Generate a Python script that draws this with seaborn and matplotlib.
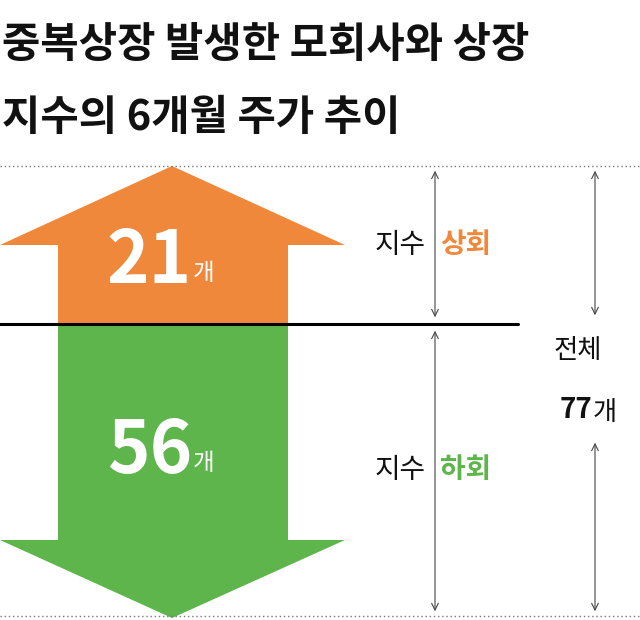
import matplotlib
matplotlib.use("Agg")
import matplotlib.pyplot as plt
import seaborn as sns
from matplotlib.patches import Polygon

sns.set_theme(style="white")
plt.rcParams['font.family'] = ['Noto Sans CJK KR', 'DejaVu Sans']

title_lines = ["중복상장 발생한 모회사와 상장", "지수의 6개월 주가 추이"]
categories = ["상회", "하회"]
counts = [21, 56]
total = sum(counts)
colors = ["#F0883B", "#5DB54B"]

fig = plt.figure(figsize=(6.4, 6.2), dpi=100)
ax = fig.add_axes([0, 0, 1, 1])
ax.set_xlim(0, 640); ax.set_ylim(620, 0); ax.axis("off")

for i, t in enumerate(title_lines):
    ax.text(2, 45 + i * 73, t, fontsize=30, fontweight="bold", va="center", ha="left", color="#111")

ax.plot([0, 640], [166, 166], ls=(0, (1, 2)), color="#777", lw=1)
ax.plot([0, 640], [616, 616], ls=(0, (1, 2)), color="#777", lw=1)

ax.add_patch(Polygon([(0, 245), (172, 166), (345, 245), (288, 245), (288, 324), (58, 324), (58, 245)],
                     closed=True, color=colors[0], lw=0))
ax.add_patch(Polygon([(58, 324), (288, 324), (288, 540), (345, 540), (172, 618), (0, 540), (58, 540)],
                     closed=True, color=colors[1], lw=0))
ax.plot([0, 518], [324, 324], color="black", lw=2.2)

for y, n in [(262, counts[0]), (452, counts[1])]:
    ax.text(192, y, str(n), fontsize=52, fontweight="black", color="white", ha="right", va="center")
    ax.text(193, y + 12, "개", fontsize=17, color="white", ha="left", va="center")

for y, c, col in [(245, categories[0], colors[0]), (470, categories[1], colors[1])]:
    ax.text(375, y, "지수", fontsize=20, ha="left", va="center", color="#111")
    ax.text(440, y, c, fontsize=20, fontweight="bold", ha="left", va="center", color=col)

ax.text(578, 350, "전체", fontsize=19, ha="center", va="center", color="#111")
ax.text(592, 410, str(total), fontsize=20, fontweight="black", ha="right", va="center", color="#111")
ax.text(593, 412, "개", fontsize=19, ha="left", va="center", color="#111")

def varrow(x, y0, y1):
    ax.annotate("", xy=(x, y0), xytext=(x, y1),
                arrowprops=dict(arrowstyle="<->", color="#444", lw=0.8))
varrow(435, 168, 320)
varrow(435, 328, 614)
varrow(595, 168, 318)
varrow(595, 440, 614)

fig.savefig("out.png", dpi=100)
